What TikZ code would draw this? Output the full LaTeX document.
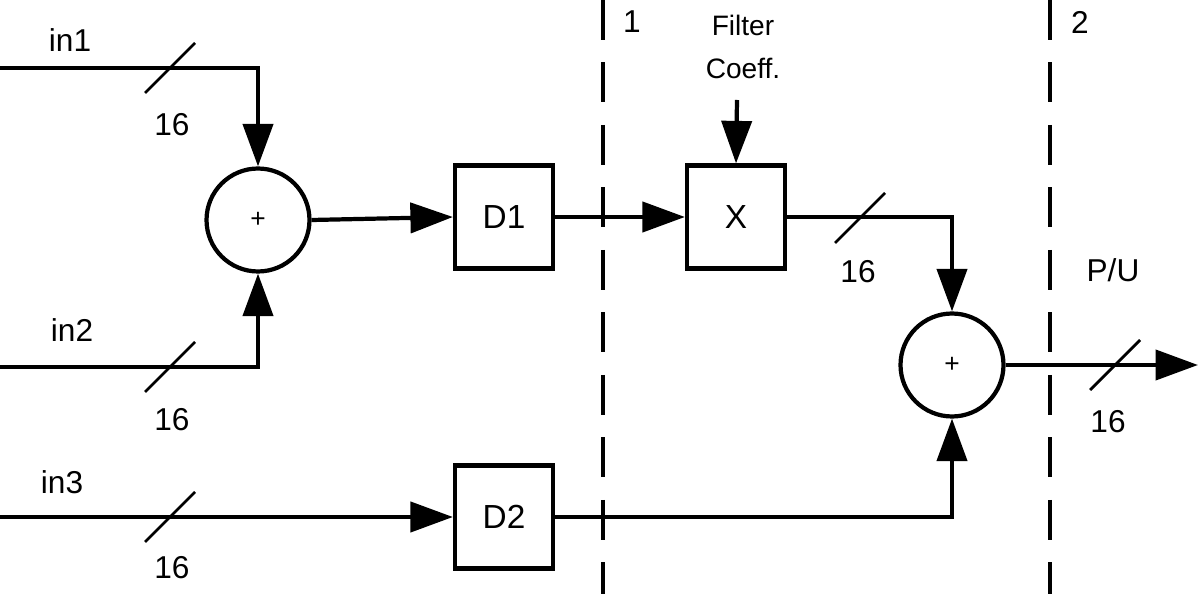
\documentclass[tikz,border=0pt]{standalone}
\usepackage{fontspec}
\setmainfont{Liberation Sans}
\usetikzlibrary{arrows.meta}
\begin{document}
\begin{tikzpicture}[x=0.02cm,y=-0.02cm,
  line width=2.4pt,
  arr/.style={-{Triangle[length=0.85cm,width=0.6cm]}},
  blk/.style={draw,minimum width=1.96cm,minimum height=2.06cm,inner sep=0pt,font=\fontsize{19}{22}\selectfont},
  sum/.style={draw,circle,minimum size=2.06cm,inner sep=0pt,font=\fontsize{15}{18}\selectfont},
  lbl/.style={font=\fontsize{18}{21}\selectfont,inner sep=0pt},
  slash/.style={line width=1.6pt},
  sep/.style={dash pattern=on 0.8cm off 0.45cm,line width=2.6pt}]
\useasboundingbox (0,0) rectangle (1200,594);
\node[sum] (s1) at (258,220) {+};
\node[sum] (s2) at (952,365) {+};
\node[blk] (d1) at (504,217) {D1};
\node[blk] (x) at (736,217) {X};
\node[blk] (d2) at (504,517) {D2};
\coordinate (i1) at (0,68); \coordinate (i2) at (0,367); \coordinate (i3) at (0,517);
\coordinate (fc) at (737,100); \coordinate (out) at (1198,365);
\draw[arr] (i1) -| (s1.north);
\draw[arr] (i2) -| (s1.south);
\draw[arr] (s1.east) -- (d1.west);
\draw[arr] (d1.east) -- (x.west);
\draw[arr] (fc) -- (x.north);
\draw[arr] (x.east) -| (s2.north);
\draw[arr] (i3) -- (d2.west);
\draw[arr] (d2.east) -| (s2.south);
\draw[arr] (s2.east) -- (out);
\foreach \px/\py in {170/68,170/367,170/517,860/218,1115/365}
  \draw[slash] (\px-25,\py+25) -- (\px+25,\py-25);
\node[lbl] (n1) at (172,125) {16};
\node[lbl] (n2) at (172,420) {16};
\node[lbl] (n3) at (172,568) {16};
\node[lbl] (n4) at (858,272) {16};
\node[lbl] (n5) at (1108,422) {16};
\node[lbl] (l1) at (70,40) {in1};
\node[lbl] (l2) at (72,330) {in2};
\node[lbl] (l3) at (62,482) {in3};
\node[lbl] (pu) at (1113,270) {P/U};
\node[lbl,align=center,font=\fontsize{16}{24}\selectfont] (ft) at (743,47) {Filter\\Coeff.};
\draw[sep] (603,0) -- (603,594);
\draw[sep] (1050,0) -- (1050,594);
\node[lbl] (c1) at (632,22) {1};
\node[lbl] (c2) at (1080,22) {2};
\end{tikzpicture}
\end{document}
